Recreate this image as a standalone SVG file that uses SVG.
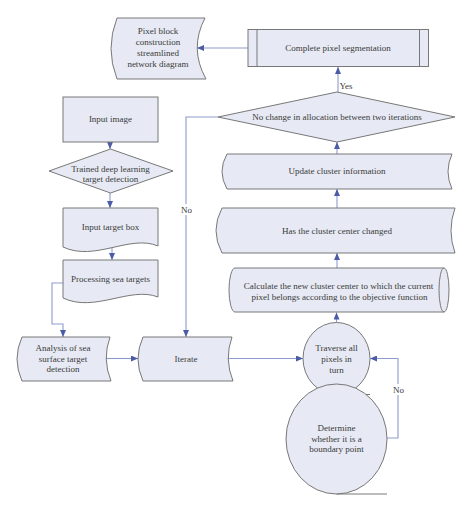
<svg xmlns="http://www.w3.org/2000/svg" width="474" height="511" viewBox="0 0 474 511">
<defs>
<style>
.n{fill:#e7eaf4;stroke:#787878;stroke-width:1}
.t{font-family:"Liberation Serif","Times New Roman",serif;font-size:9px;fill:#3a3a3a;text-anchor:middle}
.c{fill:none;stroke:#8d9bcc;stroke-width:1.1}
.lb{fill:#ffffff;stroke:none}
</style>
<marker id="ah" markerWidth="7" markerHeight="6" refX="7" refY="3" orient="auto" markerUnits="userSpaceOnUse">
<path d="M0,0 L7,3 L0,6 Z" fill="#4b5ba6"/>
</marker>
</defs>
<rect width="474" height="511" fill="#ffffff"/>

<g id="connectors">
<path class="c" d="M110,142 V149" marker-end="url(#ah)"/>
<path class="c" d="M110,193 V208" marker-end="url(#ah)"/>
<path class="c" d="M112,248 V260" marker-end="url(#ah)"/>
<path class="c" d="M63,283 H52 V324 H63 V337" marker-end="url(#ah)"/>
<path class="c" d="M106,358.5 H138" marker-end="url(#ah)"/>
<path class="c" d="M228,358.5 H303" marker-end="url(#ah)"/>
<path class="c" d="M336.5,322.5 V312.5" marker-end="url(#ah)"/>
<path class="c" d="M337,268 V253" marker-end="url(#ah)"/>
<path class="c" d="M337,208 V189" marker-end="url(#ah)"/>
<path class="c" d="M337,154 V142" marker-end="url(#ah)"/>
<path class="c" d="M338,92 V67" marker-end="url(#ah)"/>
<path class="c" d="M248,48 H197" marker-end="url(#ah)"/>
<path class="c" d="M218,117 H186 V337" marker-end="url(#ah)"/>
<path class="c" d="M387,438 H398 V358.5 H370" marker-end="url(#ah)"/>
<rect class="lb" x="180" y="204" width="13" height="11"/>
<text class="t" x="186.5" y="213">No</text>
<rect class="lb" x="392" y="384" width="13" height="11"/>
<text class="t" x="398.5" y="393">No</text>
<text class="t" x="346" y="89">Yes</text>
</g>

<g id="pixel-block">
<path class="n" d="M117,18 H205 Q189,48.5 206,79 H117 Q105,48.5 117,18 Z"/>
<text class="t" x="158" y="34">Pixel block</text>
<text class="t" x="158" y="45">construction</text>
<text class="t" x="158" y="56">streamlined</text>
<text class="t" x="158" y="67">network diagram</text>
</g>

<g id="complete-segmentation">
<rect class="n" x="248" y="29.5" width="180.5" height="37"/>
<line x1="257" y1="29.5" x2="257" y2="66.5" stroke="#787878"/>
<line x1="419.5" y1="29.5" x2="419.5" y2="66.5" stroke="#787878"/>
<text class="t" x="338" y="51">Complete pixel segmentation</text>
</g>

<g id="no-change">
<path class="n" d="M218,117 L337,92 L455,117 L337,142 Z"/>
<text class="t" x="337" y="120">No change in allocation between two iterations</text>
</g>

<g id="update-cluster">
<path class="n" d="M227,154 H452 Q444,171.5 452,189 H227 Q217,171.5 227,154 Z"/>
<text class="t" x="337" y="174">Update cluster information</text>
</g>

<g id="center-changed">
<path class="n" d="M222,208 H455 Q447,230.5 455,253 H222 Q210,230.5 222,208 Z"/>
<text class="t" x="337" y="234">Has the cluster center changed</text>
</g>

<g id="calculate-center">
<path class="n" d="M235,268 H444 A5,22 0 0 1 444,312 H235 A6,22 0 0 1 235,268 Z"/>
<path fill="none" stroke="#787878" d="M444,268 A5,22 0 0 0 444,312"/>
<text class="t" x="338.5" y="289">Calculate the new cluster center to which the current</text>
<text class="t" x="339.5" y="299.5">pixel belongs according to the objective function</text>
</g>

<g id="input-image">
<rect class="n" x="63" y="97" width="95" height="45"/>
<text class="t" x="110.5" y="122">Input image</text>
</g>

<g id="trained-detection">
<path class="n" d="M49,171 L110.5,149 L173,171 L110.5,193 Z"/>
<text class="t" x="110.5" y="172">Trained deep learning</text>
<text class="t" x="110.5" y="182">target detection</text>
</g>

<g id="input-target-box">
<path class="n" d="M63,208 H158 V246 C130,234 95,262 63,247 Z"/>
<text class="t" x="110.5" y="230">Input target box</text>
</g>

<g id="processing-sea">
<path class="n" d="M63,260 H158 V297 C130,286 95,313 63,298 Z"/>
<text class="t" x="110.5" y="282">Processing sea targets</text>
</g>

<g id="analysis">
<path class="n" d="M22,337 H110 Q102,359 111,381 H22 Q12,359 22,337 Z"/>
<text class="t" x="63" y="351">Analysis of sea</text>
<text class="t" x="63" y="361.5">surface target</text>
<text class="t" x="63" y="372">detection</text>
</g>

<g id="iterate">
<path class="n" d="M143,337 H232 Q224,359 233,381 H143 Q133,359 143,337 Z"/>
<text class="t" x="186" y="361.5">Iterate</text>
</g>

<g id="traverse">
<ellipse class="n" cx="336.5" cy="358.5" rx="33.5" ry="36"/>
<line x1="336.5" y1="394.5" x2="370" y2="394.5" stroke="#787878"/>
<text class="t" x="336.5" y="351">Traverse all</text>
<text class="t" x="336.5" y="362">pixels in</text>
<text class="t" x="336.5" y="372.5">turn</text>
</g>

<g id="boundary">
<ellipse class="n" cx="336.5" cy="439" rx="50.5" ry="55"/>
<line x1="336.5" y1="494" x2="387" y2="494" stroke="#787878"/>
<text class="t" x="336.5" y="431">Determine</text>
<text class="t" x="336.5" y="441.5">whether it is a</text>
<text class="t" x="336.5" y="452">boundary point</text>
</g>
</svg>
